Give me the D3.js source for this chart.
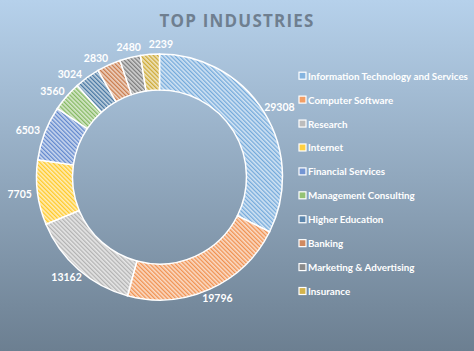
<!DOCTYPE html>
<html>
<head>
<meta charset="utf-8">
<script src="https://cdn.jsdelivr.net/npm/d3@7/dist/d3.min.js"></script>
<style>
  html, body { margin: 0; padding: 0; }
  body { width: 474px; height: 351px; overflow: hidden; }
  text { font-family: Lato, "Open Sans", sans-serif; }
</style>
</head>
<body>
<div id="chart"></div>
<script>
// top industries by count
const industries = [
  "Information Technology and Services",
  "Computer Software",
  "Research",
  "Internet",
  "Financial Services",
  "Management Consulting",
  "Higher Education",
  "Banking",
  "Marketing & Advertising",
  "Insurance"
];
const counts = [29308, 19796, 13162, 7705, 6503, 3560, 3024, 2830, 2480, 2239];
const colors = ["#5b9bd5", "#ed7d31", "#a5a5a5", "#ffc000", "#4472c4",
                "#70ad47", "#255e91", "#c0622a", "#636363", "#c49a10"];

const width = 474;
const height = 351;

const svg = d3.select("#chart")
  .append("svg")
  .attr("width", width)
  .attr("height", height);

const defs = svg.append("defs");

const bg = defs.append("linearGradient")
  .attr("id", "bg")
  .attr("x1", 0).attr("y1", 0).attr("x2", 0).attr("y2", 1);
bg.append("stop").attr("offset", "0%").attr("stop-color", "#b6d1eb");
bg.append("stop").attr("offset", "100%").attr("stop-color", "#6c7f91");

svg.append("rect")
  .attr("width", width)
  .attr("height", height)
  .attr("fill", "url(#bg)");

// hatched fills, one per slice
colors.forEach((c, i) => {
  const p = defs.append("pattern")
    .attr("id", "hatch" + i)
    .attr("patternUnits", "userSpaceOnUse")
    .attr("width", 3)
    .attr("height", 3)
    .attr("patternTransform", "rotate(-45)");
  p.append("rect")
    .attr("width", 3).attr("height", 3)
    .attr("fill", d3.interpolateRgb(c, "#ffffff")(0.72));
  p.append("rect")
    .attr("width", 1.3).attr("height", 3)
    .attr("fill", d3.interpolateRgb(c, "#ffffff")(0.15));
});

svg.append("text")
  .attr("x", 237)
  .attr("y", 27)
  .attr("text-anchor", "middle")
  .attr("fill", "#6f7f90")
  .style("font-size", "17px")
  .style("font-weight", "bold")
  .style("letter-spacing", "1.2px")
  .style("font-family", "'Open Sans', sans-serif")
  .text("TOP INDUSTRIES");

const cx = 159.5;
const cy = 177;
const outerR = 123;
const innerR = 87;

const pie = d3.pie().sort(null).value(d => d)(counts);
const arc = d3.arc().innerRadius(innerR).outerRadius(outerR);

const g = svg.append("g").attr("transform", `translate(${cx},${cy})`);

g.selectAll("path")
  .data(pie)
  .join("path")
  .attr("d", arc)
  .attr("fill", (d, i) => `url(#hatch${i})`)
  .attr("stroke", "#ffffff")
  .attr("stroke-width", 1.5);

// labels just outside the ring; box touches the anchor point,
// neighbours are pushed apart where they collide
const anchorR = 127;
const lw = 28, lh = 12;
const labels = pie.map((d, i) => ({ a: (d.startAngle + d.endAngle) / 2, v: d.value, i }));
const pos = l => {
  const s = Math.sin(l.a), c = Math.cos(l.a);
  return [anchorR * s + (lw / 2) * s, -anchorR * c - (lh / 2) * c];
};
for (let it = 0; it < 400; it++) {
  for (let k = 0; k < labels.length - 1; k++) {
    const a = labels[k], b = labels[k + 1];
    const [ax, ay] = pos(a), [bx, by] = pos(b);
    if (Math.abs(ax - bx) < lw + 4 && Math.abs(ay - by) < lh + 4) {
      a.a -= 0.003;
      b.a += 0.003;
    }
  }
}

g.selectAll("text.val")
  .data(labels)
  .join("text")
  .attr("class", "val")
  .attr("x", d => pos(d)[0])
  .attr("y", d => pos(d)[1])
  .attr("text-anchor", "middle")
  .attr("dominant-baseline", "central")
  .attr("fill", "#ffffff")
  .style("font-size", "10.5px")
  .style("font-weight", "bold")
  .text(d => d.v);

// legend
const legendY = d3.scalePoint().domain(industries).range([75.7, 291]);

const legend = svg.append("g")
  .selectAll("g")
  .data(industries)
  .join("g")
  .attr("transform", d => `translate(299,${legendY(d)})`);

legend.append("rect")
  .attr("x", 0)
  .attr("y", -3.5)
  .attr("width", 7)
  .attr("height", 7)
  .attr("fill", (d, i) => d3.interpolateRgb(colors[i], "#ffffff")(0.25))
  .attr("stroke", "#ffffff")
  .attr("stroke-width", 1.2);

legend.append("text")
  .attr("x", 9)
  .attr("y", 0)
  .attr("dominant-baseline", "central")
  .attr("fill", "#ffffff")
  .style("font-size", "9.8px")
  .style("font-weight", "bold")
  .text(d => d);
</script>
</body>
</html>
